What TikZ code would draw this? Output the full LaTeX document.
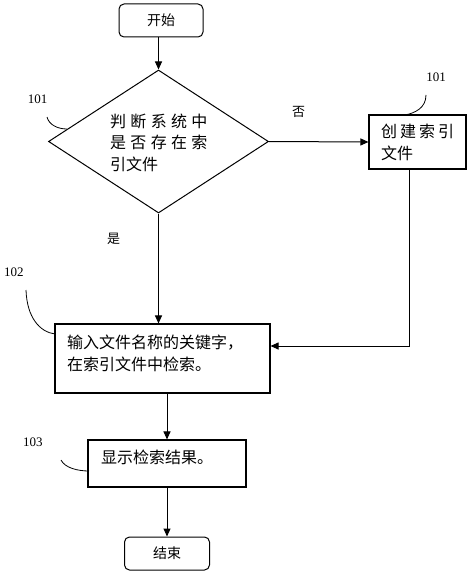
\documentclass[tikz,border=0pt]{standalone}
\usepackage{fontspec}
\setmainfont{Liberation Serif}
\newfontfamily\cjk{Noto Sans CJK SC}
\usetikzlibrary{shapes.geometric,arrows.meta}
\tikzset{
  boxnode/.style={draw, line width=1.1pt, inner sep=0pt},
  termnode/.style={draw, line width=1pt, rounded corners=5pt, inner sep=0pt, font=\cjk\fontsize{14}{14}\selectfont},
  decnode/.style={draw, diamond, line width=1pt, inner sep=0pt},
  arr/.style={-{Triangle[length=8pt,width=7pt]}, line width=1pt},
  lead/.style={line width=0.8pt},
  cjktxt/.style={font=\cjk\fontsize{16}{21.5}\selectfont, align=left, inner sep=0pt, anchor=west},
  numlbl/.style={font=\fontsize{13}{13}\selectfont, inner sep=0pt},
  yesno/.style={font=\cjk\fontsize{13}{13}\selectfont, inner sep=0pt}
}
\begin{document}
\begin{tikzpicture}[x=1pt,y=-1pt]
\useasboundingbox (0,0) rectangle (474,578);
% nodes
\node[termnode, minimum width=84pt, minimum height=33pt] (start) at (161,20.5) {开始};
\node[decnode, minimum width=220pt, minimum height=143pt] (dec) at (158.5,141.5) {};
\node[cjktxt] (dectxt) at (110,142.5) {判\hspace{4.3pt}断\hspace{4.3pt}系\hspace{4.3pt}统\hspace{4.3pt}中\\是\hspace{4.3pt}否\hspace{4.3pt}存\hspace{4.3pt}在\hspace{4.3pt}索\\引文件};
\node[boxnode, minimum width=97pt, minimum height=54pt] (create) at (417.5,142) {};
\node[cjktxt] (createtxt) at (381,142.5) {创\hspace{3pt}建\hspace{3pt}索\hspace{3pt}引\\文件};
\node[boxnode, minimum width=215pt, minimum height=69pt] (search) at (162.5,358.5) {};
\node[cjktxt, font=\cjk\fontsize{16}{22}\selectfont] (searchtxt) at (67,353) {输入文件名称的关键字，\\在索引文件中检索。};
\node[boxnode, minimum width=158pt, minimum height=47pt] (show) at (167,463.5) {};
\node[cjktxt] (showtxt) at (101,457) {显示检索结果。};
\node[termnode, minimum width=85pt, minimum height=33pt] (stop) at (167,553.5) {结束};
% labels
\node[yesno] (no) at (298.5,111.5) {否};
\node[yesno] (yes) at (113.5,239) {是};
\node[numlbl] (l101a) at (37.5,99) {101};
\node[numlbl] (l101b) at (436,77) {101};
\node[numlbl] (l102) at (14,272) {102};
\node[numlbl] (l103) at (33,442) {103};
% leader end points
\coordinate (a1) at (47,117);  \coordinate (a2) at (67,129);
\coordinate (b1) at (426,95);  \coordinate (b2) at (405,115);
\coordinate (c1) at (26,290);  \coordinate (c2) at (55,334);
\coordinate (d1) at (61,460);  \coordinate (d2) at (89,471);
\draw[lead] (a1) .. controls (49,125) and (58,129) .. (a2);
\draw[lead] (b1) .. controls (426,108) and (415,113) .. (b2);
\draw[lead] (c1) .. controls (27,318) and (40,332) .. (c2);
\draw[lead] (d1) .. controls (65,468) and (78,471) .. (d2);
% connectors
\draw[arr] (dec.north |- start.south) -- (dec.north);
\draw[arr] (dec.east) -- (create.west);
\draw[arr] (dec.south) -- (dec.south |- search.north);
\draw[arr] ([xshift=-8.5pt]create.south) |- ([yshift=12.5pt]search.east);
\draw[arr] (show.north |- search.south) -- (show.north);
\draw[arr] (show.south) -- (stop.north);
\end{tikzpicture}
\end{document}
